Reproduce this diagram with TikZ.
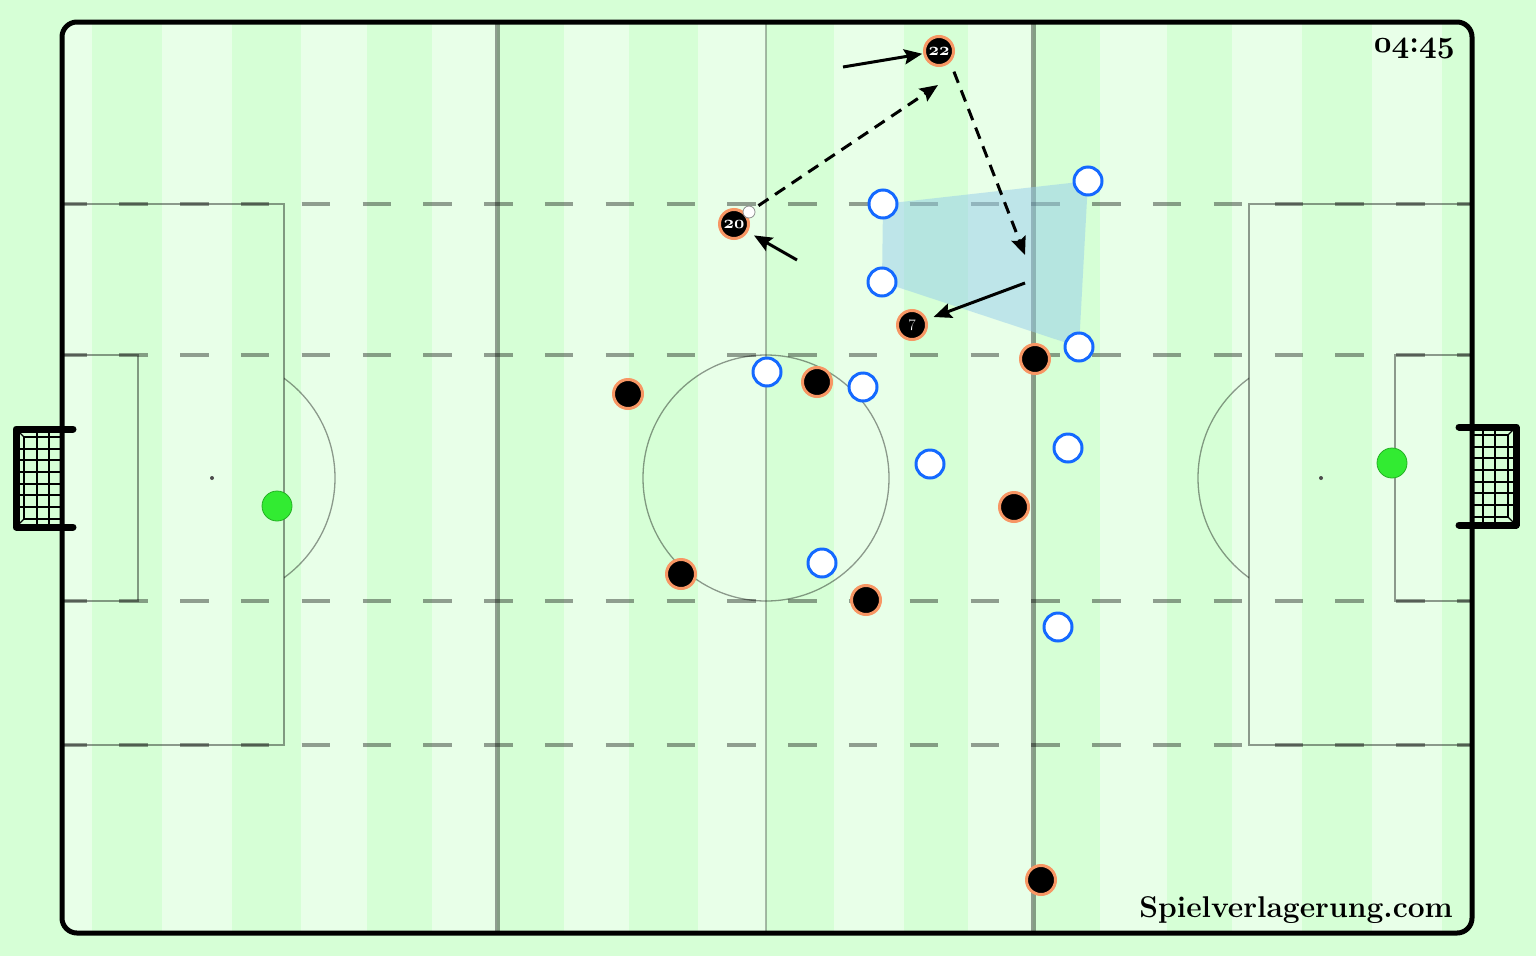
\RequirePackage{fix-cm}
\documentclass[tikz,border=0pt]{standalone}
\usetikzlibrary{arrows.meta}
\definecolor{pitchdark}{RGB}{214,255,214}
\definecolor{pitchlight}{RGB}{232,255,232}
\definecolor{ringorange}{RGB}{247,150,100}
\definecolor{ringblue}{RGB}{20,105,255}
\definecolor{keepergreen}{RGB}{50,235,50}
\definecolor{zoneblue}{RGB}{150,205,235}
\newcommand\osfnums[2]{{\fontsize{#1}{#1}\usefont{OML}{cmm}{b}{it}#2}}
\newcommand\drawgoal{%
  \foreach \gy in {449,460,472,484,495,507} \draw[line width=1.2pt] (17,\gy) -- (62,\gy);
  \foreach \gx in {37,49} \draw[line width=1.2pt] (\gx,430) -- (\gx,526);
  \draw[line width=1.2pt] (62,437) -- (24,437) -- (24,519) -- (62,519);
  \draw[line width=1.2pt] (17,430) -- (24,437) (17,526) -- (24,519);
  \draw[line width=7pt,line cap=round,line join=round] (73,429) -- (16,429) -- (16,527) -- (73,527);}
\begin{document}
\begin{tikzpicture}[x=1pt,y=-1pt,
  redplayer/.style={circle,fill=black,draw=ringorange,line width=3pt,minimum size=29pt,inner sep=0pt,text=white},
  blueplayer/.style={circle,fill=white,draw=ringblue,line width=3pt,minimum size=28pt,inner sep=0pt},
  keeper/.style={circle,fill=keepergreen,draw=keepergreen!75!black,line width=0.8pt,minimum size=30pt,inner sep=0pt},
  markline/.style={line width=1.3pt,black,opacity=0.4},
  zoneline/.style={line width=5pt,black,opacity=0.38},
  laneline/.style={line width=4pt,black,opacity=0.38,dash pattern=on 28.5pt off 32.3pt,dash phase=3.5pt},
  run/.style={line width=3pt,-{Stealth[length=18pt,width=15pt,inset=3pt]}},
  pass/.style={run,dash pattern=on 12pt off 8pt}]
\useasboundingbox (0,0) rectangle (1536,956);
\fill[pitchdark] (0,0) rectangle (1536,956);

% grass stripes
\begin{scope}
\clip[rounded corners=15pt] (62,22) rectangle (1472,933);
\fill[pitchlight] (62,22) rectangle (1472,933);
\foreach \xa/\xb in {92/162,232/301,367/432,497/564,629/698,766/834,904/968,1033/1100,1167/1232,1302/1372,1442/1472}
  \fill[pitchdark] (\xa,22) rectangle (\xb,933);
\end{scope}

% pitch markings
\draw[markline] (62,204) rectangle (284,745);
\draw[markline] (62,355) rectangle (138,601);
\draw[markline] (1249,204) rectangle (1472,745);
\draw[markline] (1395,355) rectangle (1472,601);
\begin{scope}
\clip (284,0) rectangle (1249,956);
\draw[markline] (212,478) circle (123);
\draw[markline] (1321,478) circle (123);
\end{scope}
\draw[markline] (766,478) circle (123);
\draw[markline,opacity=0.28] (766,22) -- (766,933);
\fill[black!70] (212,478) circle (2) (1321,478) circle (2);

% zones
\draw[zoneline] (497,22) -- (497,933);
\draw[zoneline] (1033,22) -- (1033,933);
\foreach \ly in {204,355,601,745}
  \draw[laneline] (62,\ly) -- (1472,\ly);

\draw[line width=5pt,rounded corners=15pt] (62,22) rectangle (1472,933);
\drawgoal
\begin{scope}[xshift=1532pt,yshift=2pt,xscale=-1]
\drawgoal
\end{scope}

% pressing zone
\coordinate (b1) at (883,204);
\coordinate (b2) at (1088,181);
\coordinate (b3) at (1079,347);
\coordinate (b4) at (882,282);
\fill[zoneblue,opacity=0.5] (b1) -- (b2) -- (b3) -- (b4) -- cycle;

% blue team
\node[blueplayer] (bl1) at (b1) {};
\node[blueplayer] (bl2) at (b2) {};
\node[blueplayer] (bl3) at (b3) {};
\node[blueplayer] (bl4) at (b4) {};
\node[blueplayer] (bl5) at (767,372) {};
\node[blueplayer] (bl6) at (863,387) {};
\node[blueplayer] (bl7) at (930,464) {};
\node[blueplayer] (bl8) at (1068,448) {};
\node[blueplayer] (bl9) at (822,563) {};
\node[blueplayer] (bl10) at (1058,627) {};
\node[keeper] (gkr) at (1392,463) {};

% black team
\node[redplayer] (p22) at (939,51) {\osfnums{18}{22}};
\node[redplayer] (p20) at (734,224) {\osfnums{18}{20}};
\node[redplayer,font=\fontsize{16}{16}\selectfont] (p7) at (912,325) {7};
\node[redplayer] (r1) at (628,394) {};
\node[redplayer] (r2) at (817,382) {};
\node[redplayer] (r3) at (1035,359) {};
\node[redplayer] (r4) at (1014,507) {};
\node[redplayer] (r5) at (681,574) {};
\node[redplayer] (r6) at (866,600) {};
\node[redplayer] (r7) at (1041,880) {};
\node[keeper] (gkl) at (277,506) {};

\node[circle,fill=white,draw=black!45,line width=0.8pt,minimum size=12pt,inner sep=0pt] (ball) at (749,212) {};

% movements
\coordinate (run22) at (843,67);
\coordinate (passend) at (938,85);
\coordinate (pass2end) at (1025,255);
\coordinate (run7) at (1025,283);
\coordinate (run20) at (797,260);
\draw[run,shorten >=1pt] (run22) -- (p22);
\draw[pass,shorten <=5pt] (ball) -- (passend);
\draw[pass,shorten <=10pt] (p22.south east) -- (pass2end);
\draw[run,shorten >=7pt] (run7) -- (p7);
\draw[run,shorten >=7pt] (run20) -- (p20);

\node[anchor=base east,inner sep=0pt] (clock) at (1455,52)
  {\osfnums{31}{04}{\fontsize{31}{31}\selectfont\bfseries:}\osfnums{31}{45}};
\node[anchor=base east,inner sep=0pt,font=\fontsize{30}{32}\selectfont\bfseries] (site) at (1453,917) {Spielverlagerung.com};
\end{tikzpicture}
\end{document}
